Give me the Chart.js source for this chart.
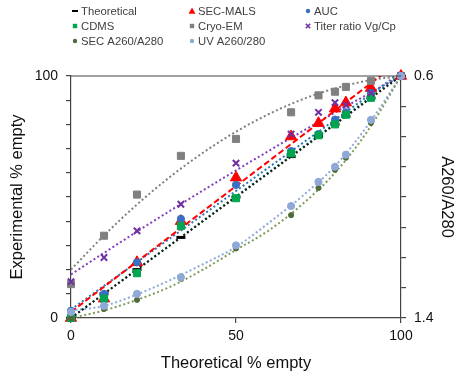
<!DOCTYPE html>
<html>
<head>
<meta charset="utf-8">
<script src="https://cdn.jsdelivr.net/npm/chart.js"></script>
<style>
  html, body { margin: 0; padding: 0; background: #fff; }
  #wrap { width: 474px; height: 376px; }
</style>
</head>
<body>
<div id="wrap"><canvas id="chart" width="474" height="376"></canvas></div>
<script>
// % empty (theoretical), same x for every series
const xPct = [0, 10, 20, 33.3, 50, 66.7, 75, 80, 83.3, 90.9, 100];

// left axis series (Experimental % empty)
const theoretical = [0, 10, 20, 33.3, 50, 66.7, 75, 80, 83.3, 90.9, 100];
const secMals = [0, 8, 23, 40, 58, 75, 80.5, 86.5, 89, 95, 100];
const auc = [3, 10, 23, 41, 55, 69, 76, 82, 85, 93, 100];
const cdms = [0, 8, 18.5, 38, 49.5, 68, 75.5, 80, 84, 91, 100];
const cryoEm = [14, 34, 51, 67, 74, 85, 92, 93.5, 95.5, 98, 100];
const titerRatio = [15, 25, 36, 47, 64, 76, 85, 89, 88, 93, 100];

// right axis series (A260/A280)
const secA260 = [1.40, 1.37, 1.34, 1.27, 1.17, 1.06, 0.97, 0.91, 0.87, 0.755, 0.6];
const uvA260 = [1.38, 1.36, 1.32, 1.265, 1.16, 1.03, 0.95, 0.90, 0.86, 0.745, 0.6];

// trend lines
const lineEnds = [0, 100];
const theoreticalTrend = [0, 100];
const secMalsTrend = [2.5, 106.5];
const aucTrend = [3.5, 101.5];
const cdmsTrend = [0, 100.5];
const curveX = [0, 10, 20, 30, 40, 50, 60, 70, 80, 90, 100];
const cryoTrend = [20, 34.1, 46.9, 58.3, 68.3, 77, 84.3, 90.3, 94.9, 98.1, 100];
const titerTrend = [18, 26.9, 35.7, 44.3, 52.7, 61, 69.1, 77.1, 84.9, 92.5, 100];
const secA260Trend = [1.40, 1.375, 1.34, 1.297, 1.24, 1.175, 1.11, 1.025, 0.92, 0.78, 0.6];
const uvA260Trend = [1.375, 1.36, 1.322, 1.275, 1.222, 1.165, 1.085, 0.998, 0.898, 0.762, 0.6];

const FONT = '"Liberation Sans", Arial, sans-serif';

const pts = (xs, ys) => xs.map((x, i) => ({ x: x, y: ys[i] }));

// marker series (legend order)
const markerSeries = [
  { label: 'Theoretical', data: theoretical, color: '#000000', style: 'line', r: 4.5, bw: 3, axis: 'y' },
  { label: 'SEC-MALS', data: secMals, color: '#FF0000', style: 'triangle', r: 6.5, bw: 1, axis: 'y' },
  { label: 'AUC', data: auc, color: '#3A6FC4', style: 'circle', r: 3.6, bw: 1, axis: 'y' },
  { label: 'CDMS', data: cdms, color: '#00A550', style: 'rect', r: 5, bw: 1, axis: 'y' },
  { label: 'Cryo-EM', data: cryoEm, color: '#808080', style: 'rect', r: 5, bw: 1, axis: 'y' },
  { label: 'Titer ratio Vg/Cp', data: titerRatio, color: '#7030A0', style: 'crossRot', r: 4.5, bw: 2, axis: 'y' },
  { label: 'SEC A260/A280', data: secA260, color: '#4F6B3A', style: 'circle', r: 2.6, bw: 1, axis: 'y2' },
  { label: 'UV A260/280', data: uvA260, color: '#8FA8D8', style: 'circle', r: 3.6, bw: 1, axis: 'y2' }
];

const trendSeries = [
  { xs: lineEnds, ys: theoreticalTrend, color: '#1a1a1a', dash: [2, 2.5], axis: 'y' },
  { xs: lineEnds, ys: secMalsTrend, color: '#FF0000', dash: [6, 3], axis: 'y' },
  { xs: lineEnds, ys: aucTrend, color: '#2E75B6', dash: [2, 2.5], axis: 'y' },
  { xs: lineEnds, ys: cdmsTrend, color: '#00875A', dash: [2, 2.5], axis: 'y' },
  { xs: curveX, ys: cryoTrend, color: '#7F7F7F', dash: [2, 2.5], axis: 'y' },
  { xs: curveX, ys: titerTrend, color: '#7F3FBF', dash: [2, 2.5], axis: 'y' },
  { xs: curveX, ys: secA260Trend, color: '#7E9C5B', dash: [2, 2.5], axis: 'y2' },
  { xs: curveX, ys: uvA260Trend, color: '#8EA9DB', dash: [2, 2.5], axis: 'y2' }
];

const datasets = [];
trendSeries.forEach(t => {
  datasets.push({
    data: pts(t.xs, t.ys),
    yAxisID: t.axis,
    showLine: true,
    borderColor: t.color,
    borderWidth: 2,
    borderDash: t.dash,
    pointRadius: 0,
    cubicInterpolationMode: 'monotone',
    order: 20
  });
});
markerSeries.forEach((s, i) => {
  datasets.push({
    label: s.label,
    data: pts(xPct, s.data),
    yAxisID: s.axis,
    showLine: false,
    pointStyle: s.style,
    pointRadius: s.r,
    pointHoverRadius: s.r,
    pointBorderWidth: s.bw,
    backgroundColor: s.color,
    borderColor: s.color,
    clip: false,
    order: 10 - i  // later series on top, like Excel
  });
});

// small marker for the legend
function drawMarker(ctx, style, x, y, r, color) {
  ctx.save();
  ctx.fillStyle = color;
  ctx.strokeStyle = color;
  ctx.beginPath();
  if (style === 'line') {
    ctx.lineWidth = 2;
    ctx.moveTo(x - r, y); ctx.lineTo(x + r, y); ctx.stroke();
  } else if (style === 'triangle') {
    ctx.moveTo(x, y - r); ctx.lineTo(x + r, y + r * 0.8); ctx.lineTo(x - r, y + r * 0.8);
    ctx.closePath(); ctx.fill();
  } else if (style === 'rect') {
    ctx.rect(x - r, y - r, 2 * r, 2 * r); ctx.fill();
  } else if (style === 'crossRot') {
    ctx.lineWidth = 1.6;
    ctx.moveTo(x - r, y - r); ctx.lineTo(x + r, y + r);
    ctx.moveTo(x + r, y - r); ctx.lineTo(x - r, y + r); ctx.stroke();
  } else {
    ctx.arc(x, y, r, 0, Math.PI * 2); ctx.fill();
  }
  ctx.restore();
}

const legendCols = [75, 192, 308];
const legendRows = [11, 26, 41];

const gridLegend = {
  id: 'gridLegend',
  afterDraw(chart) {
    const ctx = chart.ctx;
    ctx.save();
    ctx.font = '11.3px ' + FONT;
    ctx.textBaseline = 'middle';
    markerSeries.forEach((s, i) => {
      const x = legendCols[i % 3];
      const y = legendRows[Math.floor(i / 3)];
      const lr = s.style === 'triangle' ? 3.5 : (s.style === 'line' ? 3 : 2.2);
      drawMarker(ctx, s.style, x, y, lr, s.color);
      ctx.fillStyle = '#404040';
      ctx.fillText(s.label, x + 6, y + 0.5);
    });
    ctx.restore();
  }
};

// top border of the plot box
const topBorder = {
  id: 'topBorder',
  afterDraw(chart) {
    const { ctx, chartArea } = chart;
    ctx.save();
    ctx.strokeStyle = '#444';
    ctx.lineWidth = 1.2;
    ctx.beginPath();
    ctx.moveTo(chartArea.left, chartArea.top);
    ctx.lineTo(chartArea.right, chartArea.top);
    ctx.stroke();
    ctx.restore();
  }
};

const tickFont = { family: FONT, size: 14 };
const titleFont = { family: FONT, size: 16.5 };
const axisGrid = { drawOnChartArea: false, drawTicks: true, tickLength: 5, color: '#444', lineWidth: 1.2 };
const axisBorder = { display: true, color: '#444', width: 1.2 };

new Chart(document.getElementById('chart'), {
  type: 'scatter',
  data: { datasets: datasets },
  options: {
    responsive: false,
    animation: false,
    layout: { padding: { top: 76, left: 0, right: 0, bottom: 0 } },
    plugins: {
      legend: { display: false },
      tooltip: { enabled: false }
    },
    scales: {
      x: {
        type: 'linear',
        min: 0, max: 100,
        ticks: { stepSize: 50, color: '#111', font: tickFont, padding: 5, maxRotation: 0 },
        grid: axisGrid,
        border: axisBorder,
        title: { display: true, text: 'Theoretical % empty', color: '#111', font: titleFont, padding: { top: 0, bottom: 3 } },
        afterFit: s => { s.height = 58; }
      },
      y: {
        position: 'left',
        min: 0, max: 100,
        ticks: {
          stepSize: 10, color: '#111', font: tickFont, padding: 8,
          callback: v => (v === 0 || v === 100) ? String(v) : ''
        },
        grid: axisGrid,
        border: axisBorder,
        title: { display: true, text: 'Experimental % empty', color: '#111', font: titleFont, padding: { top: 8, bottom: 0 } },
        afterFit: s => { s.width = 71; }
      },
      y2: {
        position: 'right',
        min: 0.6, max: 1.4,
        reverse: true,
        ticks: {
          stepSize: 0.1, color: '#111', font: tickFont, padding: 8,
          callback: v => (Math.abs(v - 0.6) < 1e-6 || Math.abs(v - 1.4) < 1e-6) ? v.toFixed(1) : ''
        },
        grid: axisGrid,
        border: axisBorder,
        title: { display: true, text: 'A260/A280', color: '#111', font: titleFont, padding: { top: 18, bottom: 0 } },
        afterFit: s => { s.width = 73; }
      }
    }
  },
  plugins: [gridLegend, topBorder]
});
</script>
</body>
</html>
